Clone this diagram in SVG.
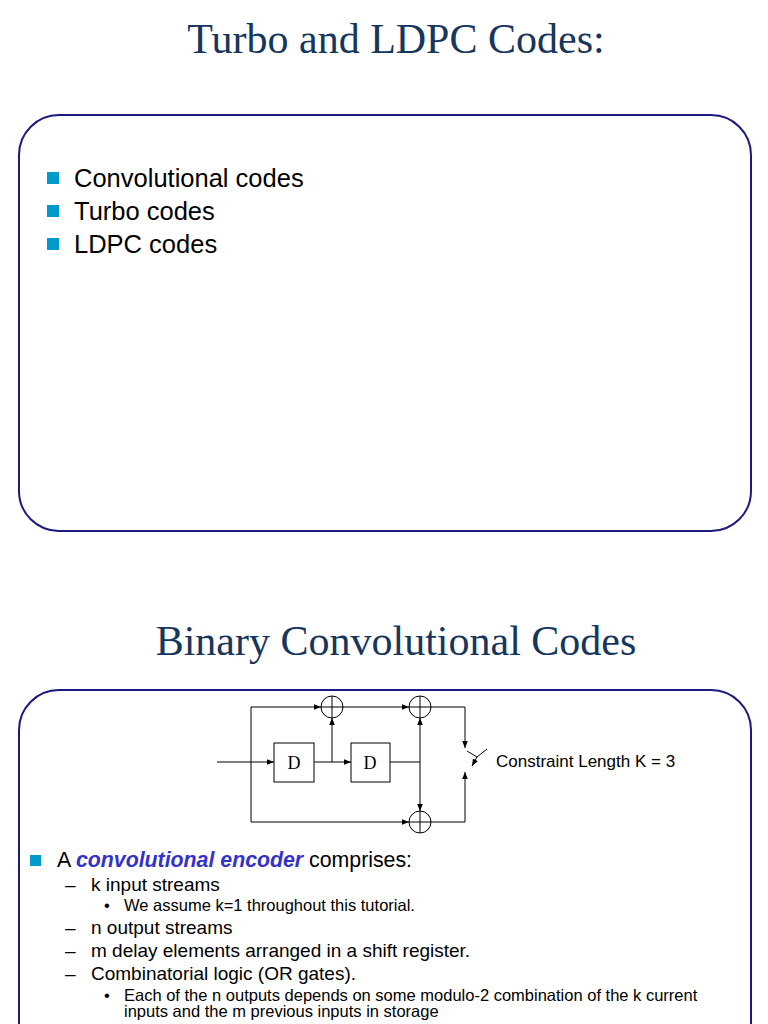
<svg xmlns="http://www.w3.org/2000/svg" width="768" height="1024" viewBox="0 0 768 1024">
<style>
.t{font-family:"Liberation Serif",serif;font-size:42px;fill:#17365d;text-anchor:middle}
.b{font-family:"Liberation Sans",sans-serif;fill:#000}
.frame{fill:none;stroke:#1a1a80;stroke-width:2}
.w{fill:none;stroke:#000;stroke-width:1}
.sq{fill:#0099cc}
</style>
<defs><marker id="a" viewBox="0 0 10 10" refX="10" refY="5" markerWidth="7" markerHeight="7" orient="auto"><path d="M0,1L10,5L0,9z" fill="#000"/></marker></defs>
<rect width="768" height="1024" fill="#fff"/>
<text class="t" x="396" y="53">Turbo and LDPC Codes:</text>
<rect class="frame" x="19" y="115" width="732" height="416" rx="40"/>
<g id="list1" class="b" font-size="25.5">
<rect class="sq" x="47" y="172" width="12" height="12"/><text x="74" y="187">Convolutional codes</text>
<rect class="sq" x="47" y="205" width="12" height="12"/><text x="74" y="220">Turbo codes</text>
<rect class="sq" x="47" y="238" width="12" height="12"/><text x="74" y="253">LDPC codes</text>
</g>
<text class="t" x="396" y="655">Binary Convolutional Codes</text>
<path class="frame" d="M19,1030V730a40,40 0 0 1 40,-40H711a40,40 0 0 1 40,40V1030"/>
<g id="connectors" class="w">
<path d="M217,762H274" marker-end="url(#a)"/>
<path d="M251,762V707H321" marker-end="url(#a)"/>
<path d="M251,762V822H409" marker-end="url(#a)"/>
<path d="M314,762H351" marker-end="url(#a)"/>
<path d="M332,762V718" marker-end="url(#a)"/>
<path d="M343,707H409" marker-end="url(#a)"/>
<path d="M390,762H420"/>
<path d="M420,762V718" marker-end="url(#a)"/>
<path d="M420,762V811" marker-end="url(#a)"/>
<path d="M431,707H465V748" marker-end="url(#a)"/>
<path d="M431,822H465V772" marker-end="url(#a)"/>
<path d="M467,751L477,757L487,749M477,757L472,766" marker-end="url(#a)"/>
</g>
<g id="d1"><rect class="w" x="274" y="743" width="40" height="39"/><text x="294" y="769" font-family="Liberation Serif,serif" font-size="18" text-anchor="middle">D</text></g>
<g id="d2"><rect class="w" x="351" y="743" width="39" height="39"/><text x="370" y="769" font-family="Liberation Serif,serif" font-size="18" text-anchor="middle">D</text></g>
<g id="add1" class="w"><circle cx="332" cy="707" r="11"/><path d="M321,707H343M332,696V718"/></g>
<g id="add2" class="w"><circle cx="420" cy="707" r="11"/><path d="M409,707H431M420,696V718"/></g>
<g id="add3" class="w"><circle cx="420" cy="822" r="11"/><path d="M409,822H431M420,811V833"/></g>
<text class="b" x="496" y="767" font-size="17">Constraint Length K = 3</text>
<g id="list2" class="b">
<rect class="sq" x="30" y="855" width="11" height="11"/>
<text x="57" y="867" font-size="21.3">A <tspan fill="#3333cc" font-weight="bold" font-style="italic">convolutional encoder</tspan> comprises:</text>
<g font-size="19">
<text x="65" y="891">–</text><text x="91" y="891">k input streams</text>
<text x="65" y="934">–</text><text x="91" y="934">n output streams</text>
<text x="65" y="957">–</text><text x="91" y="957">m delay elements arranged in a shift register.</text>
<text x="65" y="980">–</text><text x="91" y="980">Combinatorial logic (OR gates).</text>
</g>
<g font-size="16.5">
<text x="104" y="911">•</text><text x="124" y="911">We assume k=1 throughout this tutorial.</text>
<text x="104" y="1001">•</text><text x="124" y="1001">Each of the n outputs depends on some modulo-2 combination of the k current</text>
<text x="124" y="1017">inputs and the m previous inputs in storage</text>
</g>
</g>
</svg>
